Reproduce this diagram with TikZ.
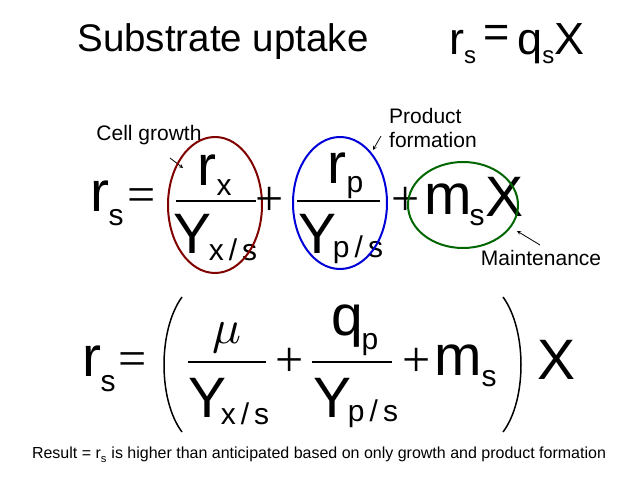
\documentclass[tikz,border=0pt]{standalone}
\usepackage{fontspec}
\setmainfont{Liberation Sans}
\newfontfamily\serifm{Liberation Serif}
\usepackage{unicode-math}
\begin{document}
\begin{tikzpicture}[x=1pt,y=-1pt,
  lbl/.style={inner sep=0pt,anchor=center},
  big/.style={lbl,font=\fontsize{57}{60}\selectfont},
  sub/.style={lbl,font=\fontsize{30}{32}\selectfont},
  op/.style={lbl,font=\serifm\fontsize{50}{50}\selectfont},
  bar/.style={line width=1.5pt},
  note/.style={font=\fontsize{21}{24}\selectfont,inner sep=0pt},
  arr/.style={->,>=stealth,line width=0.8pt}]
\useasboundingbox (0,0) rectangle (638,478);
\fill[white] (0,0) rectangle (638,478);
\node[lbl,font=\fontsize{38.5}{42}\selectfont] (title) at (223,42) {Substrate uptake};
\node[lbl,font=\fontsize{45}{48}\selectfont,anchor=west] (eq0) at (449,44) {r\raisebox{-9pt}{\fontsize{24}{26}\selectfont s}\,\raisebox{7pt}{=}\,q\raisebox{-9pt}{\fontsize{24}{26}\selectfont s}X};
% notes
\node[note] (cg) at (149,135) {Cell growth};
\node[note,align=left,anchor=west] (pf) at (389,128) {Product\\formation};
\node[note] (mt) at (541,258) {Maintenance};
\coordinate (cgA) at (170,158); \coordinate (cgB) at (183,168);
\coordinate (pfA) at (381,136); \coordinate (pfB) at (373,150);
\coordinate (mtA) at (540,245); \coordinate (mtB) at (517,231);
\draw[arr] (cgA) -- (cgB);
\draw[arr] (pfA) -- (pfB);
\draw[arr] (mtA) -- (mtB);
% equation 1
\node[big] (rs1) at (100,196) {r};
\node[sub] (rs1s) at (116,218) {s};
\node[op] (eq1) at (142,200) {=};
\draw[bar] (176,201) -- (256,201);
\node[big] (rx) at (207,170) {r};
\node[sub] (rxs) at (224,188) {x};
\node[big] (Yx) at (193,234) {Y};
\node[sub] (Yxs) at (233,250) {x\,/\,s};
\draw[red!50!black,line width=2pt] (215,205) ellipse (47 and 68);
\node[op] (p1) at (270,201) {+};
\draw[bar] (297,201) -- (380,201);
\node[big] (rp) at (337,168) {r};
\node[sub] (rps) at (355,188) {p};
\node[big] (Yp) at (318,234) {Y};
\node[sub] (Yps) at (358,250) {p\,/\,s};
\draw[blue!85!black,line width=2pt] (340,203) ellipse (47 and 66);
\node[op] (p2) at (406,201) {+};
\node[big] (m1) at (448,199) {m};
\node[sub] (m1s) at (477,218) {s};
\node[big] (X1) at (505,197) {X};
\draw[green!40!black,line width=2pt] (463,205) ellipse (55 and 43);
% equation 2
\node[big] (rs2) at (92,361) {r};
\node[sub] (rs2s) at (108,384) {s};
\node[op] (eq2) at (133,364) {=};
\draw[line width=1.5pt] (182,297) .. controls (158,330) and (158,400) .. (182,432);
\draw[line width=1.5pt] (503,297) .. controls (527,330) and (527,400) .. (503,432);
\draw[bar] (188,362) -- (266,362);
\node[lbl,font=\fontsize{48}{48}\selectfont] (mu) at (227,338) {$\mitmu$};
\node[big] (Yx2) at (208,398) {Y};
\node[sub] (Yx2s) at (245,414) {x\,/\,s};
\node[op] (p3) at (290,362) {+};
\draw[bar] (312,362) -- (392,362);
\node[big] (qp) at (347,326) {q};
\node[sub] (qps) at (370,345) {p};
\node[big] (Yp2) at (333,398) {Y};
\node[sub] (Yp2s) at (373,414) {p\,/\,s};
\node[op] (p4) at (417,362) {+};
\node[big] (m2) at (458,360) {m};
\node[sub] (m2s) at (489,379) {s};
\node[big] (X2) at (557,360) {X};
% bottom
\node[lbl,font=\fontsize{16}{18}\selectfont] (res) at (319,455) {Result = r\textsubscript{s} is higher than anticipated based on only growth and product formation};
\end{tikzpicture}
\end{document}
